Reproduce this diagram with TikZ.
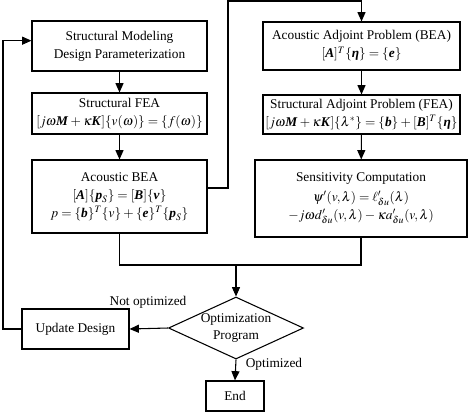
\documentclass[tikz,border=0pt]{standalone}
\usepackage{amsmath}
\usepackage{mathptmx}
\usepackage{fontspec}
\setmainfont{Liberation Serif}
\usepackage{tikz}
\usetikzlibrary{shapes.geometric,arrows.meta}

\newcommand{\bvec}[1]{\textbf{\textit{#1}}}
\thinmuskip=2mu
\medmuskip=3mu plus 1mu minus 1mu
\thickmuskip=4mu plus 2mu

\tikzset{
  box/.style={draw, line width=0.8pt, align=center, inner sep=1pt, font=\fontsize{10}{13.5}\selectfont},
  flow/.style={line width=0.8pt, -{Triangle[length=7pt,width=6pt]}},
  wire/.style={line width=0.8pt},
  lbl/.style={inner sep=0.75pt, font=\fontsize{10}{12}\selectfont}
}

\begin{document}
\begin{tikzpicture}[x=0.75pt,y=0.75pt,yscale=-1,xscale=1]
\useasboundingbox (0,0) rectangle (474,412);

% left column
\node[box, minimum width=131.25pt, minimum height=37.5pt] (design) at (119.5,46) {Structural Modeling\\Design Parameterization};
\node[box, minimum width=131.25pt, minimum height=30.75pt] (fea) at (119.5,113.5) {Structural FEA\\$[j\omega\bvec{M} + \kappa\bvec{K}]\{v(\omega)\} = \{f(\omega)\}$};
\node[box, minimum width=131.25pt, minimum height=54.75pt] (bea) at (119.5,196.5) {Acoustic BEA\\$[\bvec{A}]\{\bvec{p}_S\} = [\bvec{B}]\{\bvec{v}\}$\\$p = \{\bvec{b}\}^T\{v\} + \{\bvec{e}\}^T\{\bvec{p}_S\}$};

% right column
\node[box, minimum width=147.75pt, minimum height=36pt] (aadj) at (361.5,46) {Acoustic Adjoint Problem (BEA)\\$[\bvec{A}]^T\{\bvec{η}\} = \{\bvec{e}\}$};
\node[box, minimum width=147.75pt, minimum height=29.25pt] (sadj) at (361.5,114.5) {Structural Adjoint Problem (FEA)\\$[j\omega\bvec{M} + \kappa\bvec{K}]\{\lambda^*\} = \{\bvec{b}\} + [\bvec{B}]^T\{\bvec{η}\}$};
\node[box, minimum width=159pt, minimum height=57.75pt] (sens) at (361,198.5) {Sensitivity Computation\\[1pt]$\psi'(v,\lambda) = \ell'_{\delta u}(\lambda)$\\$-j\omega d'_{\delta u}(v,\lambda) - \kappa a'_{\delta u}(v,\lambda)$};

% bottom
\node[box, diamond, aspect=2.2, inner sep=0pt, minimum width=101.25pt, minimum height=46.5pt, font=\fontsize{10}{12.5}\selectfont] (opt) at (236,328) {Optimization\\Program};
\node[box, minimum width=80.25pt, minimum height=30pt] (upd) at (75.5,329) {Update Design};
\node[box, minimum width=43.5pt, minimum height=22.5pt] (end) at (235,396) {End};

\coordinate (top) at (228,1);
\coordinate (merge) at (236,265);
\coordinate (lft) at (3,329);

% connections
\draw[flow] (design) -- (fea);
\draw[flow] (fea) -- (bea);
\draw[flow] ([yshift=-6.4pt]bea.east) -| (top) -| (aadj.north);
\draw[flow] (aadj) -- (sadj);
\draw[flow] (sadj) -- (sens);
\draw[wire] (bea.south) |- (merge) -| (sens.south);
\draw[flow] (merge) -- (opt.north);
\draw[flow] (opt.west) -- (upd.east);
\draw[flow] (upd.west) -- (lft) |- ([yshift=-4pt]design.west);
\draw[flow] (opt.south) -- (end.north);

% labels
\node[lbl] (notopt) at (148,302) {Not optimized};
\node[lbl] (isopt) at (274,364) {Optimized};

\end{tikzpicture}
\end{document}
